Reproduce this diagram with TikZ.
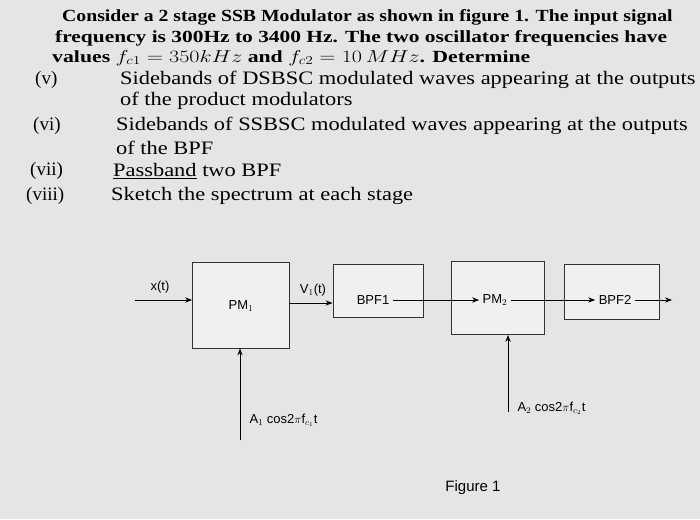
\documentclass[tikz,border=0pt]{standalone}
\usepackage{fontspec}
\setmainfont{Liberation Serif}
\newfontfamily\hand{Liberation Sans}
\usetikzlibrary{arrows.meta}
\newcommand{\wide}[2]{\scalebox{#1}[1]{#2}}
\begin{document}
\begin{tikzpicture}[x=1pt,y=-1pt,
  txt/.style={anchor=west,inner sep=0pt,font=\fontsize{19}{21}\selectfont},
  btxt/.style={anchor=west,inner sep=0pt,font=\bfseries\fontsize{17}{19}\selectfont},
  blk/.style={draw=black!80,line width=0.8pt,fill=black!6},
  lab/.style={font=\hand\fontsize{13}{15}\selectfont},
  arr/.style={-{Stealth[length=7pt]},line width=0.9pt}]
\useasboundingbox[fill=black!10] (0,0) rectangle (700,519);
\node[btxt] (l1) at (62,17) {\wide{1.16}{Consider a 2 stage SSB Modulator as shown in figure 1. The input signal}};
\node[btxt] (l2) at (55,38) {\wide{1.26}{frequency is 300Hz to 3400 Hz. The two oscillator frequencies have}};
\node[btxt] (l3) at (52,58) {\wide{1.28}{values $f_{c1}=350kHz$ and $f_{c2}=10\,MHz$. Determine}};
\node[txt] (n5) at (35,80) {(v)};
\node[txt] (l4) at (120,80) {\wide{1.18}{Sidebands of DSBSC modulated waves appearing at the outputs}};
\node[txt] (l5) at (120,101) {\wide{1.18}{of the product modulators}};
\node[txt] (n6) at (33,126) {(vi)};
\node[txt] (l6) at (116,126) {\wide{1.18}{Sidebands of SSBSC modulated waves appearing at the outputs}};
\node[txt] (l7) at (116,148) {\wide{1.18}{of the BPF}};
\node[txt] (n7) at (30,171) {(vii)};
\node[txt] (l8) at (113,171) {\wide{1.18}{\underline{Passband} two BPF}};
\node[txt] (n8) at (26,196) {(viii)};
\node[txt] (l9) at (111,196) {\wide{1.18}{Sketch the spectrum at each stage}};
% blocks
\node[blk,minimum width=97pt,minimum height=86pt] (pm1) at (241,305) {};
\node[lab] at (241,306) {PM$_1$};
\node[blk,minimum width=90pt,minimum height=53pt] (bpf1) at (378,291) {};
\node[lab] (tb1) at (373,300) {BPF1};
\node[blk,minimum width=93pt,minimum height=73pt] (pm2) at (498,298) {};
\node[lab] (tp2) at (495,300) {PM$_2$};
\node[blk,minimum width=95pt,minimum height=55pt] (bpf2) at (612,292) {};
\node[lab] (tb2) at (615,300) {BPF2};
\coordinate (xin) at (135,300);
\coordinate (bout) at (672,300);
\coordinate (o1) at (240,440);
\coordinate (o2) at (508,412);
\draw[arr] (xin) -- (xin -| pm1.west);
\node[lab] at (160,287) {x(t)};
\draw[arr] (pm1.east |- 0,303) -- (bpf1.west |- 0,303);
\node[lab] at (313,290) {V$_1$(t)};
\draw[arr] (tb1.east) -- (tp2.west);
\draw[arr] (tp2.east) -- (tb2.west);
\draw[arr] (tb2.east) -- (bout);
\draw[arr] (o1) -- (pm1.south -| o1);
\draw[arr] (o2) -- (pm2.south -| o2);
\node[lab,anchor=west] at (246,420) {A$_1$ cos2$\pi$f$_{c_1}$t};
\node[lab,anchor=west] at (514,408) {A$_2$ cos2$\pi$f$_{c_2}$t};
\node[font=\hand\fontsize{15}{17}\selectfont] (fig) at (473,488) {Figure 1};
\end{tikzpicture}
\end{document}
